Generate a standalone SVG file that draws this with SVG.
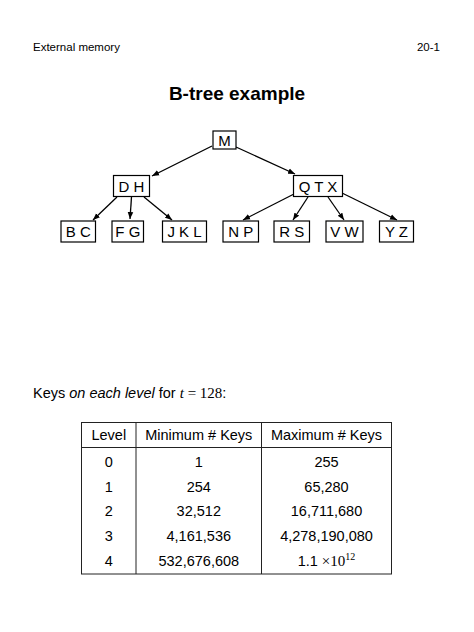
<svg xmlns="http://www.w3.org/2000/svg" width="474" height="632" viewBox="0 0 474 632">
<style>
text{font-family:"Liberation Sans",Arial,sans-serif;fill:#000}
.hdr{font-size:11.5px}
.title{font-size:19px;font-weight:bold}
.box{fill:#fff;stroke:#000;stroke-width:1.2}
.nl{font-size:15px;text-anchor:middle}
.edge{stroke:#000;stroke-width:1.3;fill:none;marker-end:url(#ah)}
.tb{font-size:14.5px;text-anchor:middle}
.grid{stroke:#222;stroke-width:1;fill:none}
.body{font-size:14.5px}
.serif{font-family:"Liberation Serif","Times New Roman",serif}
</style>
<defs>
<marker id="ah" viewBox="0 0 10 10" refX="10" refY="5" markerWidth="7" markerHeight="7" markerUnits="userSpaceOnUse" orient="auto">
<path d="M0,1 L10,5 L0,9 Z" fill="#000"/>
</marker>
</defs>
<rect width="474" height="632" fill="#fff"/>
<text class="hdr" x="33" y="51">External memory</text>
<text class="hdr" x="440" y="51" text-anchor="end">20-1</text>
<text class="title" x="237" y="100" text-anchor="middle">B-tree example</text>

<g id="connectors">
<line class="edge" x1="212" y1="146" x2="152" y2="176"/>
<line class="edge" x1="236" y1="147" x2="295" y2="174"/>
<line class="edge" x1="117" y1="197" x2="93" y2="220"/>
<line class="edge" x1="131.5" y1="197" x2="130" y2="219"/>
<line class="edge" x1="144" y1="197" x2="172" y2="220"/>
<line class="edge" x1="294" y1="194" x2="243" y2="220"/>
<line class="edge" x1="308" y1="197" x2="293" y2="220"/>
<line class="edge" x1="328" y1="197" x2="344" y2="220"/>
<line class="edge" x1="342" y1="193" x2="397" y2="220"/>
</g>

<g id="node-M"><rect class="box" x="213" y="131" width="23" height="18"/><text class="nl" x="224.5" y="145.5">M</text></g>
<g id="node-DH"><rect class="box" x="113.5" y="175.5" width="36" height="21"/><text class="nl" x="131.5" y="191.5">D H</text></g>
<g id="node-QTX"><rect class="box" x="293.5" y="175.5" width="49" height="21"/><text class="nl" x="318" y="191.5">Q T X</text></g>
<g id="node-BC"><rect class="box" x="61" y="221" width="34.5" height="21"/><text class="nl" x="78.3" y="237">B C</text></g>
<g id="node-FG"><rect class="box" x="112" y="221" width="31.5" height="21"/><text class="nl" x="127.8" y="237">F G</text></g>
<g id="node-JKL"><rect class="box" x="162.5" y="221" width="44" height="21"/><text class="nl" x="184.5" y="237">J K L</text></g>
<g id="node-NP"><rect class="box" x="223" y="221" width="35.5" height="21"/><text class="nl" x="240.8" y="237">N P</text></g>
<g id="node-RS"><rect class="box" x="274" y="221" width="35.5" height="21"/><text class="nl" x="291.8" y="237">R S</text></g>
<g id="node-VW"><rect class="box" x="326" y="221" width="37" height="21"/><text class="nl" x="344.5" y="237">V W</text></g>
<g id="node-YZ"><rect class="box" x="379.5" y="221" width="34" height="21"/><text class="nl" x="396.5" y="237">Y Z</text></g>

<text class="body" x="33" y="398">Keys <tspan font-style="italic">on each level</tspan> for <tspan class="serif" font-style="italic" font-size="15">t</tspan><tspan class="serif" font-size="15"> = 128</tspan>:</text>

<g id="table">
<rect class="grid" x="81.5" y="422.5" width="310" height="151.5"/>
<line class="grid" x1="81.5" y1="447.5" x2="391.5" y2="447.5"/>
<line class="grid" x1="136" y1="422.5" x2="136" y2="574"/>
<line class="grid" x1="261.5" y1="422.5" x2="261.5" y2="574"/>
<text class="tb" x="108.8" y="440">Level</text>
<text class="tb" x="198.8" y="440">Minimum # Keys</text>
<text class="tb" x="326.5" y="440">Maximum # Keys</text>
<text class="tb" x="108.8" y="467">0</text>
<text class="tb" x="198.8" y="467">1</text>
<text class="tb" x="326.5" y="467">255</text>
<text class="tb" x="108.8" y="491.5">1</text>
<text class="tb" x="198.8" y="491.5">254</text>
<text class="tb" x="326.5" y="491.5">65,280</text>
<text class="tb" x="108.8" y="516">2</text>
<text class="tb" x="198.8" y="516">32,512</text>
<text class="tb" x="326.5" y="516">16,711,680</text>
<text class="tb" x="108.8" y="541">3</text>
<text class="tb" x="198.8" y="541">4,161,536</text>
<text class="tb" x="326.5" y="541">4,278,190,080</text>
<text class="tb" x="108.8" y="565.5">4</text>
<text class="tb" x="198.8" y="565.5">532,676,608</text>
<text class="tb" x="326.5" y="565.5">1.1 <tspan class="serif" font-size="15">×10</tspan><tspan class="serif" font-size="10" dy="-6">12</tspan></text>
</g>
</svg>
